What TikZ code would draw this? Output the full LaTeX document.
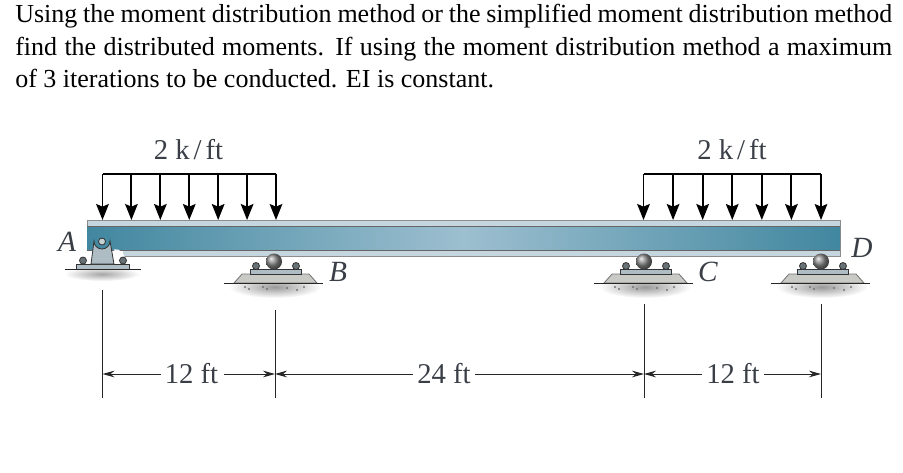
\documentclass[tikz,border=0pt]{standalone}
\usepackage{fontspec}
\setmainfont{Liberation Serif}
\usetikzlibrary{arrows.meta}

\definecolor{inkgray}{HTML}{3A3F47}
\definecolor{webdark}{HTML}{41879F}
\definecolor{weblight}{HTML}{9DBFD0}
\definecolor{flange}{HTML}{C6D6DE}
\definecolor{steel}{HTML}{AEBDC4}
\definecolor{concrete}{HTML}{C9C9C6}

\tikzset{
  dimline/.style={draw=black!85,line width=.7pt,-{Stealth[length=9pt,width=5pt]}},
  extline/.style={draw=black!85,line width=.7pt},
  loadline/.style={draw=black,line width=1.2pt},
  loadarrow/.style={draw=black,line width=1.4pt,-{Stealth[length=12pt,width=9.5pt,inset=2pt]}},
  dimlabel/.style={font=\fontsize{21.5}{24}\selectfont,text=inkgray,inner sep=0pt},
  pointlabel/.style={font=\fontsize{22}{24}\selectfont\itshape,text=inkgray,inner sep=0pt},
  bolt/.style={draw=black!80,fill=steel!60!black,line width=.6pt},
  plate/.style={draw=black!80,fill=steel,line width=.6pt}
}

% one roller support, x = centre of the ball
\newcommand{\rollersupport}[1]{
  \begin{scope}[shift={(#1,0)}]
    \shade[inner color=black!40,outer color=white] (2,287) ellipse (46 and 11);
    \fill[plate,fill=concrete,draw=black!55] (-39,283) -- (-31,274) -- (36,274) -- (44,283) -- cycle;
    \draw[extline] (-49,283.3) -- (50,283.3);
    \foreach \dx/\dy in {-28/287,-24/289,-10/287,-6/289,14/288,24/290,31/287}
      \fill[black!55] (\dx,\dy) circle (1.2);
    \foreach \dx in {-17,23} {\fill[bolt] (\dx,266) circle (3.5);}
    \fill[plate] (-23,269) rectangle (28,274.5);
    \shade[ball color=black!45,draw=none] (1,261.5) circle (8);
  \end{scope}
}

\begin{document}
\begin{tikzpicture}[x=.75pt,y=-.75pt]
  \useasboundingbox (0,0) rectangle (903,472);

  \node[anchor=north west,inner sep=0pt,text width=657.75pt,align=justify,
        font=\fontsize{19.5}{24.5}\selectfont,text=black] (question) at (15,4)
    {Using the moment distribution method or the simplified moment distribution method\linebreak
     find the distributed moments. If using the moment distribution method a maximum\linebreak
     of 3 iterations to be conducted. EI is constant.};

  % beam
  \fill[draw=black!45,fill=flange,line width=.5pt] (87,220.5) rectangle (840,256);
  \shade[left color=webdark,right color=webdark,middle color=weblight] (87,226) rectangle (840,250);
  \draw[black!60,line width=.6pt] (87,226) -- (840,226) (87,250) -- (840,250);
  \fill[white] (86,250.5) rectangle (123,257);

  % loads
  \foreach \xa/\xb in {102.5/276,643.5/821} {
    \draw[loadline] (\xa,174) -- (\xb,174);
    \foreach \i in {0,...,6}
      \draw[loadarrow] ({\xa+\i*(\xb-\xa)/6},174) -- ({\xa+\i*(\xb-\xa)/6},220);
  }
  \node[dimlabel] (loadA) at (188.5,150) {2 k\kern3pt/\kern3pt ft};
  \node[dimlabel] (loadB) at (732,150) {2 k\kern3pt/\kern3pt ft};

  % pin at A
  \shade[inner color=black!35,outer color=white] (102,274) ellipse (38 and 7);
  \draw[white,line width=1pt] (114,250) .. controls (120,249) and (124,254) .. (125,261);
  \foreach \x in {83,123} {\fill[bolt] (\x,260.5) circle (3.5);}
  \fill[plate] (76,264) rectangle (129,269);
  \draw[extline] (65,269.5) -- (141,269.5);
  \filldraw[plate] (91,264) -- (94,241) arc (180:0:8) -- (114,264) -- cycle;
  \filldraw[bolt,fill=steel!70] (102,241.5) circle (3.5);

  % rollers
  \rollersupport{273}
  \rollersupport{643}
  \rollersupport{820}

  \node[pointlabel] (A) at (67,242) {A};
  \node[pointlabel] (B) at (338,272) {B};
  \node[pointlabel] (C) at (708,272) {C};
  \node[pointlabel] (D) at (862,248) {D};

  % dimensions
  \coordinate (extA) at (102.5,290);
  \coordinate (extB) at (275,310);
  \coordinate (extC) at (644,304);
  \coordinate (extD) at (821,304);
  \foreach \e in {extA,extB,extC,extD}
    \draw[extline] (\e) -- (\e |- 0,398);

  \node[dimlabel] (dimAB) at (191.5,374) {12 ft};
  \node[dimlabel] (dimBC) at (444,374) {24 ft};
  \node[dimlabel] (dimCD) at (733,374) {12 ft};
  \coordinate (a1) at (102.5,374);
  \coordinate (a2) at (275,374);
  \coordinate (a3) at (644,374);
  \coordinate (a4) at (821,374);
  \draw[dimline] ([xshift=-3pt]dimAB.west) -- (a1);
  \draw[dimline] ([xshift=4pt]dimAB.east) -- (a2);
  \draw[dimline] ([xshift=-3pt]dimBC.west) -- (a2);
  \draw[dimline] ([xshift=3pt]dimBC.east) -- (a3);
  \draw[dimline] ([xshift=-3pt]dimCD.west) -- (a3);
  \draw[dimline] ([xshift=3pt]dimCD.east) -- (a4);
\end{tikzpicture}
\end{document}
